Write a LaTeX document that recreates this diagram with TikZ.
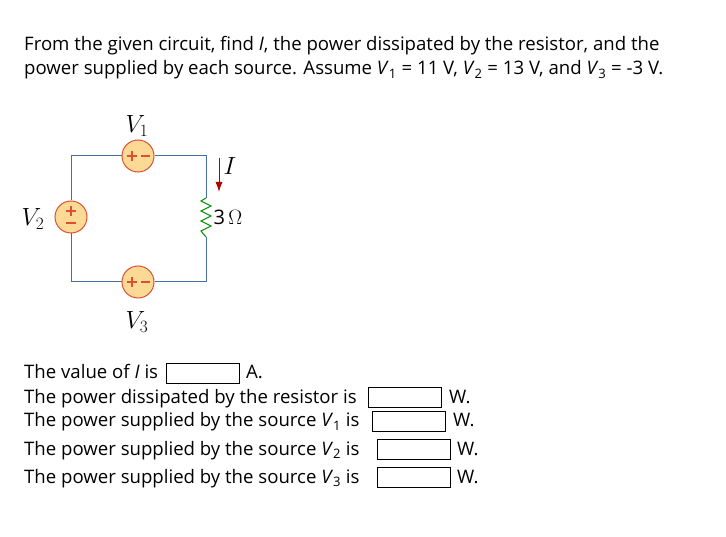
\documentclass[tikz,border=0pt]{standalone}
\usepackage{fontspec}
\usetikzlibrary{arrows.meta}
\setmainfont{Open Sans}
\definecolor{wirec}{RGB}{70,110,160}
\definecolor{srcfill}{RGB}{252,218,150}
\definecolor{srcline}{RGB}{220,80,50}
\begin{document}
\begin{tikzpicture}[x=1pt,y=-1pt,
  wire/.style={draw=wirec, line width=1pt},
  src/.style={circle, draw=srcline, fill=srcfill, line width=1pt, minimum size=32pt, inner sep=0pt},
  sgn/.style={draw=srcline, line width=1.3pt},
  txt/.style={anchor=base west, inner sep=0pt, font=\fontsize{18.6}{20}\selectfont},
  box/.style={draw=black, line width=0.8pt, minimum width=73pt, minimum height=20pt, inner sep=0pt, anchor=west},
  lab/.style={font=\fontsize{27}{28}\selectfont\rmfamily}]
\useasboundingbox (0,0) rectangle (726,537);
\node[txt] (t1) at (24,51) {From the given circuit, find \textit{I}, the power dissipated by the resistor, and the};
\node[txt] (t2) at (24,75) {power supplied by each source. Assume \textit{V}\textsubscript{1} = 11 V, \textit{V}\textsubscript{2} = 13 V, and \textit{V}\textsubscript{3} = -3 V.};
% circuit
\coordinate (tl) at (71,156); \coordinate (tr) at (206,156);
\coordinate (bl) at (71,282); \coordinate (br) at (206,282);
\coordinate (ra) at (206,198); \coordinate (rb) at (206,237);
\node[src] (s1) at (138,156) {};
\node[src] (s2) at (71,217) {};
\node[src] (s3) at (138,282) {};
\draw[wire] (tl) -- (s1.west); \draw[wire] (s1.east) -- (tr) -- (ra);
\draw[wire] (tl) -- (s2.north); \draw[wire] (s2.south) -- (bl) -- (s3.west);
\draw[wire] (s3.east) -- (br) -- (rb);
\draw[green!55!black, line width=1pt] (ra) -- ++(-5,3) -- ++(10,5) -- ++(-10,5) -- ++(10,5) -- ++(-10,5) -- ++(10,5) -- ++(-10,5) -- (rb);
\foreach \s in {s1,s3}{
  \draw[sgn] ([xshift=-11pt]\s.center) -- ++(10,0) ([xshift=-6pt,yshift=5pt]\s.center) -- ++(0,10);
  \draw[sgn] ([xshift=3pt]\s.center) -- ++(9,0);}
\draw[sgn] ([xshift=-5pt,yshift=6pt]s2.center) -- ++(10,0) ([yshift=11pt]s2.center) -- ++(0,10);
\draw[sgn] ([xshift=-5pt,yshift=-6pt]s2.center) -- ++(10,0);
\coordinate (a1) at (219,158); \coordinate (a2) at (219,192);
\draw[red!70!black, line width=1pt, -{Latex[length=10pt,width=7pt]}] (a1) -- (a2);
\node[lab] (I) at (230,166) {$I$};
\node[lab] (l1) at (137,126) {$V_1$};
\node[lab] (l2) at (33,219) {$V_2$};
\node[lab] (l3) at (137,322) {$V_3$};
\node[font=\fontsize{20}{20}\selectfont\rmfamily, anchor=west] (om) at (210,217) {3\,$\Omega$};
% questions
\node[txt] (q1) at (24,379) {The value of \textit{I} is};
\node[box] (b1) at (166,373) {};
\node[txt] (u1) at (246,379) {A.};
\node[txt] (q2) at (24,403) {The power dissipated by the resistor is};
\node[box] (b2) at (368,397) {};
\node[txt] (u2) at (449,403) {W.};
\node[txt] (q3) at (24,427) {The power supplied by the source \textit{V}\textsubscript{1} is};
\node[box] (b3) at (372,421) {};
\node[txt] (u3) at (453,427) {W.};
\node[txt] (q4) at (24,455) {The power supplied by the source \textit{V}\textsubscript{2} is};
\node[box] (b4) at (377,449) {};
\node[txt] (u4) at (457,455) {W.};
\node[txt] (q5) at (24,483) {The power supplied by the source \textit{V}\textsubscript{3} is};
\node[box] (b5) at (377,477) {};
\node[txt] (u5) at (457,483) {W.};
\end{tikzpicture}
\end{document}
